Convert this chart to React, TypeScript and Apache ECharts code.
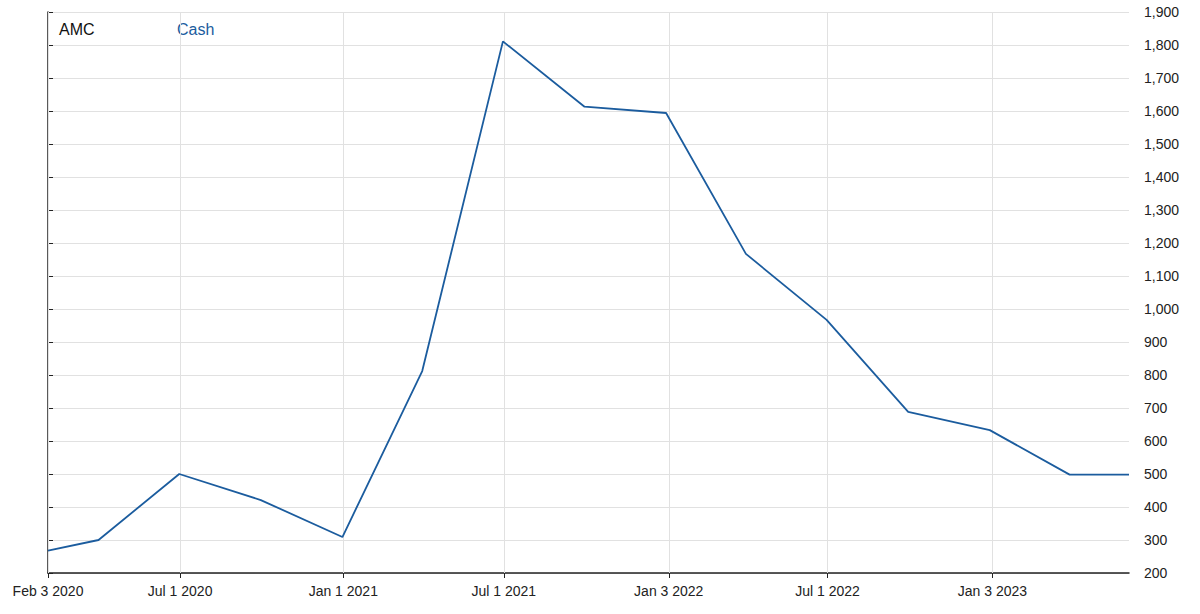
import React, { useEffect, useRef } from "react";
import * as echarts from "echarts";

const MONTHS = ["Jan", "Feb", "Mar", "Apr", "May", "Jun", "Jul", "Aug", "Sep", "Oct", "Nov", "Dec"];

// [year, monthIndex, day]
const pointDates: [number, number, number][] = [
  [2020, 1, 3], [2020, 2, 31], [2020, 5, 30], [2020, 8, 30], [2020, 11, 31],
  [2021, 2, 31], [2021, 5, 30], [2021, 8, 30], [2021, 11, 31],
  [2022, 2, 31], [2022, 5, 30], [2022, 8, 30], [2022, 11, 31],
  [2023, 2, 31], [2023, 5, 6],
];
const cashValues = [268, 300, 500, 421, 309, 812, 1811, 1613, 1594, 1167, 967, 688, 633, 498, 498];

const tickDates: [number, number, number][] = [
  [2020, 1, 3], [2020, 6, 1], [2021, 0, 1], [2021, 6, 1], [2022, 0, 3], [2022, 6, 1], [2023, 0, 3],
];
const axisStart: [number, number, number] = [2020, 1, 3];
const axisEnd: [number, number, number] = [2023, 5, 6];

const yMin = 200;
const yMax = 1900;
const yStep = 100;

const DAY = 86400000;
const utc = (d: [number, number, number]) => Date.UTC(d[0], d[1], d[2]);
const dayIdx = (d: [number, number, number]) => Math.round((utc(d) - utc(axisStart)) / DAY);
const fmtDay = (v: number) => {
  const d = new Date(utc(axisStart) + Math.round(v) * DAY);
  return `${MONTHS[d.getUTCMonth()]} ${d.getUTCDate()} ${d.getUTCFullYear()}`;
};

const FONT = "'Liberation Sans', Arial, Helvetica, sans-serif";
const LINE_COLOR = "#1b5c9e";
const GRID_COLOR = "#e1e1e1";

export default function App() {
  const ref = useRef<HTMLDivElement>(null);
  useEffect(() => {
    if (!ref.current) return;
    const chart = echarts.init(ref.current, undefined, { renderer: "svg" });
    const ticks = tickDates.map(dayIdx);
    chart.setOption({
      animation: false,
      backgroundColor: "#ffffff",
      grid: { left: 48, right: 71, top: 12, bottom: 41, containLabel: false },
      xAxis: {
        type: "value",
        min: 0,
        max: dayIdx(axisEnd),
        axisLine: { show: true, onZero: false, lineStyle: { color: "#222", width: 1.5 } },
        axisTick: { show: true, customValues: ticks, length: 5, lineStyle: { color: "#222" } },
        axisLabel: {
          show: true,
          customValues: ticks,
          formatter: (v: number) => fmtDay(v),
          color: "#222",
          fontSize: 14,
          fontFamily: FONT,
          margin: 11,
          hideOverlap: false,
        },
        splitLine: { show: false },
      },
      yAxis: {
        type: "value",
        position: "right",
        min: yMin,
        max: yMax,
        interval: yStep,
        axisLine: { show: true, lineStyle: { color: "#222", width: 1.5 } },
        axisTick: { show: true, length: 5, lineStyle: { color: "#222" } },
        axisLabel: {
          color: "#222",
          fontSize: 14,
          fontFamily: FONT,
          margin: 15,
          formatter: (v: number) => v.toLocaleString("en-US"),
        },
        splitLine: { show: true, lineStyle: { color: GRID_COLOR, width: 1 } },
      },
      graphic: [
        { type: "text", left: 59, top: 21, style: { text: "AMC", fill: "#111", fontSize: 16, fontFamily: FONT } },
        { type: "text", left: 177, top: 21, style: { text: "Cash", fill: LINE_COLOR, fontSize: 16, fontFamily: FONT } },
      ],
      series: [
        {
          type: "line",
          name: "Cash",
          z: 3,
          data: pointDates.map((d, i) => [dayIdx(d), cashValues[i]]),
          showSymbol: false,
          symbol: "none",
          lineStyle: { color: LINE_COLOR, width: 1.8 },
          itemStyle: { color: LINE_COLOR },
          markLine: {
            silent: true,
            z: 1,
            symbol: ["none", "none"],
            label: { show: false },
            lineStyle: { color: GRID_COLOR, type: "solid", width: 1 },
            data: ticks.map((t) => ({ xAxis: t })),
            emphasis: { disabled: true },
          },
        },
      ],
    });
    return () => chart.dispose();
  }, []);
  return <div ref={ref} style={{ position: "fixed", left: 0, top: 0, width: 1200, height: 614 }} />;
}
